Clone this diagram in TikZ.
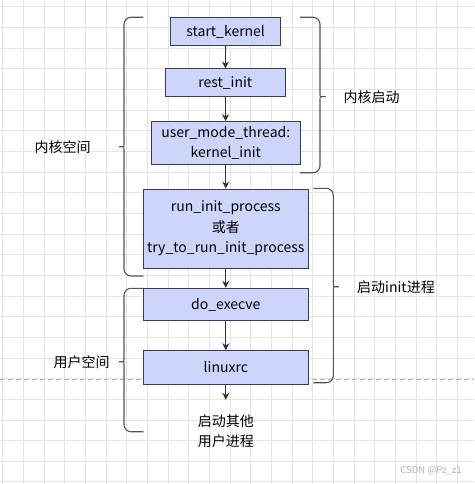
\documentclass[tikz,border=0pt]{standalone}
\usepackage{fontspec}
\setmainfont{Noto Sans CJK SC}
\usetikzlibrary{arrows.meta}
\definecolor{boxfill}{RGB}{205,214,250}
\definecolor{boxline}{RGB}{60,60,80}
\definecolor{gridc}{RGB}{228,228,228}
\definecolor{bracec}{RGB}{85,85,85}
\tikzset{
  stepbox/.style={draw=boxline, fill=boxfill, line width=0.9pt, inner sep=0pt, align=center,
    font=\fontsize{14}{20.5}\selectfont},
  arr/.style={draw=black!80, line width=0.9pt, -{Stealth[length=7pt,width=7pt]}},
  brace/.style={draw=bracec, line width=1.1pt, rounded corners=7pt},
  lab/.style={inner sep=0pt, font=\fontsize{14}{20.5}\selectfont, align=center},
}
\begin{document}
\begin{tikzpicture}[x=1pt,y=-1pt]
\useasboundingbox (0,0) rectangle (474,484);
\fill[white] (0,0) rectangle (474,484);
% grid
\foreach \i in {0,...,22} {
  \draw[gridc, line width=0.8pt] ({2.7+20.66*\i},0) -- ({2.7+20.66*\i},484);
}
\foreach \j in {0,...,23} {
  \draw[gridc, line width=0.8pt] (0,{6.7+20.66*\j}) -- (474,{6.7+20.66*\j});
}
% page break line
\draw[gray!55, line width=0.8pt, dash pattern=on 5pt off 3pt] (0,379) -- (474,379);

% boxes
\node[stepbox, minimum width=110pt, minimum height=28.4pt] (sk) at (225.7,31.5) {start\_kernel};
\node[stepbox, minimum width=119.3pt, minimum height=27.7pt] (ri) at (225.3,82.8) {rest\_init};
\node[stepbox, minimum width=149.7pt, minimum height=42.3pt] (um) at (225.8,142.8) {user\_mode\_thread:\\kernel\_init};
\node[stepbox, minimum width=165pt, minimum height=79.3pt] (rp) at (225.8,228.7) {run\_init\_process\\或者\\try\_to\_run\_init\_process};
\node[stepbox, minimum width=165pt, minimum height=32.4pt] (de) at (225.8,304.5) {do\_execve};
\node[stepbox, minimum width=165pt, minimum height=33.3pt] (lx) at (225.8,367.3) {linuxrc};
\node[lab, minimum height=62pt] (txt) at (225.8,431) {启动其他\\用户进程};

% arrows
\draw[arr] (sk) -- (ri);
\draw[arr] (ri) -- (um);
\draw[arr] (um) -- (rp);
\draw[arr] (rp) -- (de);
\draw[arr] (de) -- (lx);
\draw[arr] (lx) -- (txt);

% braces
\draw[brace] (143.3,17.3) -- (124,17.3) -- (124,137.7) .. controls (124,146.7) .. (115,146.7)
  .. controls (124,146.7) .. (124,155.7) -- (124,276) -- (143.3,276);
\draw[brace] (300,17.3) -- (320,17.3) -- (320,87.7) .. controls (320,96.7) .. (330,96.7)
  .. controls (320,96.7) .. (320,105.7) -- (320,172.7) -- (300,172.7);
\draw[brace] (313.3,188.3) -- (333.3,188.3) -- (333.3,277.7) .. controls (333.3,286.7) .. (343,286.7)
  .. controls (333.3,286.7) .. (333.3,295.7) -- (333.3,382.7) -- (313.3,382.7);
\draw[brace] (143.3,288.3) -- (124,288.3) -- (124,352.7) .. controls (124,361.7) .. (115,361.7)
  .. controls (124,361.7) .. (124,370.7) -- (124,431.7) -- (143.3,431.7);

% labels
\node[lab] (l1) at (62.5,147) {内核空间};
\node[lab] (l2) at (371.5,97) {内核启动};
\node[lab] (l3) at (396,287) {启动init进程};
\node[lab] (l4) at (81.7,361.7) {用户空间};
\node[inner sep=0pt, text=gray!60, font=\fontsize{9.5}{11}\selectfont] (wm) at (431,471) {CSDN @Pz\_z1};
\end{tikzpicture}
\end{document}
